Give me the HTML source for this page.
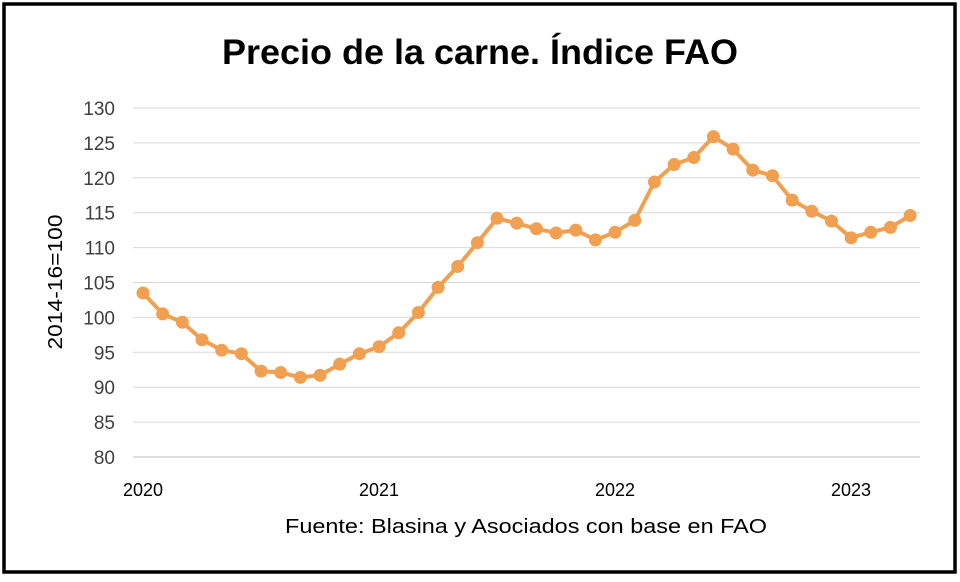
<!DOCTYPE html>
<html><head><meta charset="utf-8"><style>
html,body{margin:0;padding:0;background:#fff;}
</style></head><body>
<svg width="960" height="577" xmlns="http://www.w3.org/2000/svg" font-family="Liberation Sans, DejaVu Sans, sans-serif">
<rect x="0" y="0" width="960" height="577" fill="#fff"/>
<rect x="4" y="4" width="951" height="568" fill="none" stroke="#000" stroke-width="3.5"/>
<text x="222" y="64" textLength="516" lengthAdjust="spacingAndGlyphs" font-size="35" font-weight="bold" fill="#000">Precio de la carne. Índice FAO</text>
<g id="grid" stroke="#d9d9d9" stroke-width="1"></g>
<g id="ylab" font-size="19" fill="#404040" text-anchor="end"></g>
<text transform="translate(62,282) rotate(-90)" text-anchor="middle" textLength="135" lengthAdjust="spacingAndGlyphs" font-size="20" fill="#000">2014-16=100</text>
<g font-size="18" fill="#000" text-anchor="middle">
<text x="143" y="496">2020</text><text x="379" y="496">2021</text><text x="615" y="496">2022</text><text x="851" y="496">2023</text>
</g>
<text x="285" y="533" textLength="482" lengthAdjust="spacingAndGlyphs" font-size="20" fill="#000">Fuente: Blasina y Asociados con base en FAO</text>
<g id="series"></g>
<script>
var ns="http://www.w3.org/2000/svg";
function y(v){return 457-(v-80)*6.98;}
var g=document.getElementById('grid'),yl=document.getElementById('ylab');
for(var v=80;v<=130;v+=5){
 var l=document.createElementNS(ns,'line');l.setAttribute('x1',133);l.setAttribute('x2',920);
 l.setAttribute('y1',y(v));l.setAttribute('y2',y(v));if(v==80)l.setAttribute('stroke','#bfbfbf');g.appendChild(l);
 var t=document.createElementNS(ns,'text');t.setAttribute('x',115);t.setAttribute('y',y(v)+7);t.textContent=v;yl.appendChild(t);
}
var d=[103.5,100.5,99.3,96.8,95.3,94.8,92.3,92.1,91.4,91.7,93.3,94.8,95.8,97.8,100.7,104.3,107.3,110.7,114.2,113.5,112.7,112.1,112.5,111.1,112.2,113.9,119.4,121.9,122.9,125.9,124.1,121.1,120.3,116.8,115.2,113.8,111.4,112.2,112.9,114.6];
var s=document.getElementById('series'),pts=[];
d.forEach(function(v,i){pts.push((143+i*19.67).toFixed(1)+','+y(v).toFixed(1));});
var p=document.createElementNS(ns,'polyline');p.setAttribute('points',pts.join(' '));p.setAttribute('fill','none');
p.setAttribute('stroke','#f0a050');p.setAttribute('stroke-width','4');p.setAttribute('stroke-linejoin','round');s.appendChild(p);
d.forEach(function(v,i){var c=document.createElementNS(ns,'circle');c.setAttribute('cx',143+i*19.67);c.setAttribute('cy',y(v));c.setAttribute('r',6.5);c.setAttribute('fill','#f0a050');s.appendChild(c);});
</script>
</svg>
</body></html>
